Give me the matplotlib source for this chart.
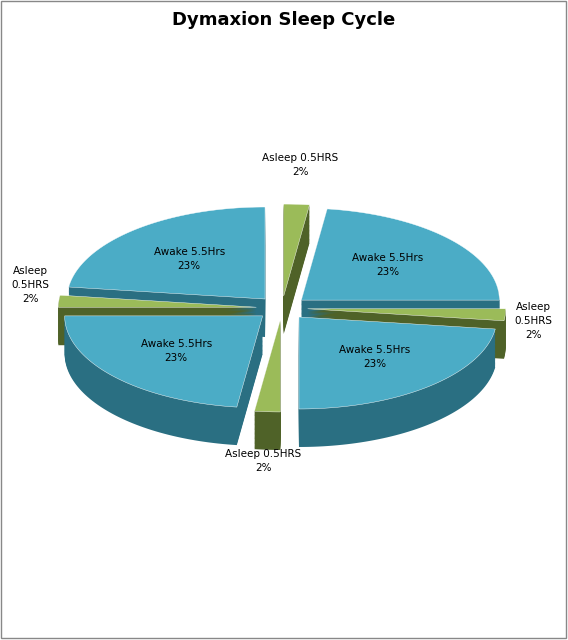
import numpy as np
import matplotlib
matplotlib.use("Agg")
import matplotlib.pyplot as plt
from matplotlib.patches import Polygon, Rectangle

labels = ["Asleep 0.5HRS", "Awake 5.5Hrs", "Asleep 0.5HRS", "Awake 5.5Hrs",
          "Asleep 0.5HRS", "Awake 5.5Hrs", "Asleep 0.5HRS", "Awake 5.5Hrs"]
hours = [0.5, 5.5, 0.5, 5.5, 0.5, 5.5, 0.5, 5.5]
pct_labels = ["2%", "23%", "2%", "23%", "2%", "23%", "2%", "23%"]
title = "Dymaxion Sleep Cycle"

top_col = {"Awake": "#4bacc6", "Asleep": "#9bbb59"}
side_col = {"Awake": "#2a6f82", "Asleep": "#4f6228"}

fig = plt.figure(figsize=(5.68, 6.4), dpi=100)
ax = fig.add_axes([0, 0, 1, 1])
ax.set_xlim(0, 568); ax.set_ylim(640, 0); ax.axis("off")
ax.add_patch(Rectangle((1, 1), 565, 637, fill=False, ec="#888888", lw=1))
ax.text(284, 20, title, ha="center", va="center", fontsize=13, fontweight="bold")

cx, cy = 282, 308
rx, ry = 198, 92
depth = 38
expl = 0.13
tot = sum(hours)

slices = []
a = 90.0
for lab, h, p in zip(labels, hours, pct_labels):
    span = 360 * h / tot
    a1, a0 = a, a - span
    slices.append((lab, a0, a1, p))
    a = a0

def pts(a0, a1, ox, oy, dy=0):
    t = np.radians(np.linspace(a0, a1, 60))
    xs = np.concatenate([[ox], ox + np.cos(t)])
    ys = np.concatenate([[oy], oy + np.sin(t)])
    return np.column_stack([cx + xs * rx, cy - ys * ry + dy])

order = sorted(slices, key=lambda s: np.sin(np.radians((s[1] + s[2]) / 2)), reverse=True)
for lab, a0, a1, p in order:
    kind = lab.split()[0]
    m = np.radians((a0 + a1) / 2)
    ox, oy = expl * np.cos(m), expl * np.sin(m)
    for d in np.linspace(depth, 1, 30):
        ax.add_patch(Polygon(pts(a0, a1, ox, oy, d), closed=True,
                             fc=side_col[kind], ec="none"))
    ax.add_patch(Polygon(pts(a0, a1, ox, oy), closed=True, fc=top_col[kind],
                         ec="white", lw=0.3))
    if kind == "Awake":
        lx = cx + (ox + 0.58 * np.cos(m)) * rx
        ly = cy - (oy + 0.58 * np.sin(m)) * ry
        ax.text(lx, ly, f"{lab}\n{p}", ha="center", va="center", fontsize=7.5,
                linespacing=1.5)
    else:
        if abs(np.cos(m)) > 0.5:
            txt = "Asleep\n0.5HRS\n" + p
            lx = cx + np.sign(np.cos(m)) * (expl + 1.14) * rx
            ly = cy - (oy + 1.1 * np.sin(m)) * ry + (6 if np.cos(m) > 0 else -16)
        else:
            txt = f"{lab}\n{p}"
            lx = cx + (ox + 1.3 * np.cos(m)) * rx
            ly = cy - (oy + 1.3 * np.sin(m)) * ry + (22 if np.sin(m) < 0 else -12)
        ax.text(lx, ly, txt, ha="center", va="center", fontsize=7.5, linespacing=1.5)

fig.savefig("out.png", dpi=100)
